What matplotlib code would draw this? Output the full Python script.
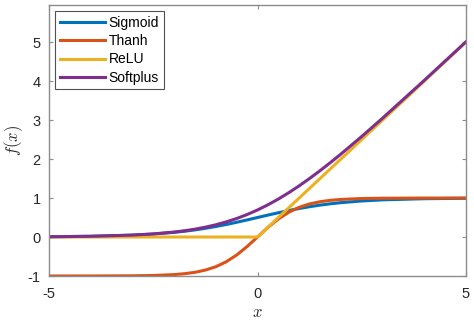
import matplotlib.pyplot as plt

# values
x = [-5, -4, -3, -2.5, -2, -1.75, -1.5, -1.25, -1, -0.75, -0.5, -0.25, 0,
     0.25, 0.5, 0.75, 1, 1.25, 1.5, 1.75, 2, 2.5, 3, 4, 5]
sigmoid = [0.007, 0.018, 0.047, 0.076, 0.119, 0.148, 0.182, 0.223, 0.269, 0.321, 0.378, 0.438, 0.5,
           0.562, 0.622, 0.679, 0.731, 0.777, 0.818, 0.852, 0.881, 0.924, 0.953, 0.982, 0.993]
thanh = [-1.0, -0.999, -0.995, -0.987, -0.964, -0.941, -0.905, -0.848, -0.762, -0.635, -0.462, -0.245, 0.0,
         0.245, 0.462, 0.635, 0.762, 0.848, 0.905, 0.941, 0.964, 0.987, 0.995, 0.999, 1.0]
relu_x = [-5, 0, 5]
relu = [0, 0, 5]
softplus = [0.007, 0.018, 0.049, 0.079, 0.127, 0.160, 0.201, 0.252, 0.313, 0.387, 0.474, 0.576, 0.693,
            0.826, 0.974, 1.137, 1.313, 1.502, 1.701, 1.910, 2.127, 2.579, 3.049, 4.018, 5.007]

plt.rcParams['font.family'] = 'Liberation Sans'
plt.rcParams['mathtext.fontset'] = 'cm'
plt.rcParams['axes.unicode_minus'] = False

fig = plt.figure(figsize=(4.74, 3.23), dpi=100)
ax = fig.add_axes([49/474, 1 - 276/323, 417/474, 271/323])

lw = 2.2
ax.plot(x, sigmoid, color='#0072BD', lw=lw, label='Sigmoid')
ax.plot(x, thanh, color='#D95319', lw=lw, label='Thanh')
ax.plot(relu_x, relu, color='#EDB120', lw=lw, label='ReLU')
ax.plot(x, softplus, color='#7E2F8E', lw=lw, label='Softplus')

ax.set_xlim(-5, 5)
ax.set_ylim(-1, 5.95)
ax.set_xticks([-5, 0, 5])
ax.set_yticks([-1, 0, 1, 2, 3, 4, 5])
ax.tick_params(direction='in', length=3, width=0.8, colors='#8c8c8c',
               labelcolor='#262626', labelsize=10.5, top=True, right=True,
               labeltop=False, labelright=False)
ax.tick_params(axis='x', pad=8)
ax.tick_params(axis='y', pad=6)
for s in ax.spines.values():
    s.set_color('#8c8c8c')
    s.set_linewidth(1.0)

ax.set_xlabel('$x$', fontsize=12, color='#262626', labelpad=3)
ax.set_ylabel('$f(x)$', fontsize=12, color='#262626', labelpad=2)

leg = ax.legend(loc='upper left', fontsize=10, frameon=True, fancybox=False,
                edgecolor='#262626', handlelength=3.2, handletextpad=0.3,
                labelspacing=0.3, borderpad=0.35, borderaxespad=0.45)
leg.get_frame().set_linewidth(0.8)

plt.savefig('out.png', dpi=100)
